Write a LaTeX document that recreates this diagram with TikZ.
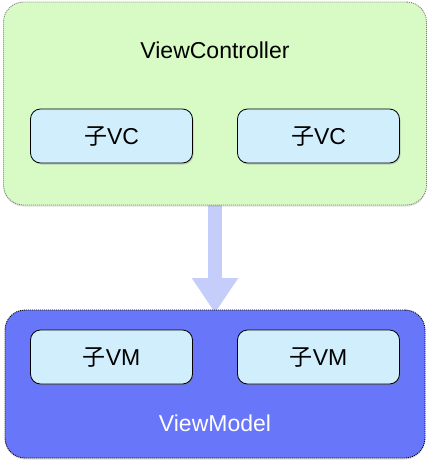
\documentclass[tikz,border=0pt]{standalone}
\usepackage{fontspec}
\setmainfont{Liberation Sans}
\newfontfamily\cjk{Noto Sans CJK SC}
\usepackage{tikz}
\usetikzlibrary{arrows.meta, shadows}

\definecolor{vcgreen}{HTML}{D8FAC4}
\definecolor{subblue}{HTML}{D0EEFC}
\definecolor{vmblue}{HTML}{6876FA}
\definecolor{arrowblue}{HTML}{C5CEFA}

\begin{document}
\begin{tikzpicture}[x=1pt, y=-1pt,
  every node/.style={font=\fontsize{23}{27}\selectfont},
  outerbox/.style={rounded corners=20pt, line width=0.9pt, dash pattern=on 1pt off 1pt, inner sep=0pt},
  subbox/.style={draw, fill=subblue, rounded corners=10pt, line width=0.8pt, minimum width=162pt, minimum height=54pt, inner sep=0pt,
    drop shadow={shadow xshift=1pt, shadow yshift=-1.5pt, opacity=0.35}}]
\useasboundingbox (0,0) rectangle (429,464);
% arrow between the two layers
\coordinate (top) at (215,205);
\coordinate (tip) at (215,313);
\draw[arrowblue, line width=14pt, -{Triangle[width=44pt, length=35pt]}] (top) -- (tip);
% view controller layer
\node[outerbox, draw=gray, fill=vcgreen, minimum width=423pt, minimum height=203pt,
  drop shadow={shadow xshift=0pt, shadow yshift=-1.5pt, opacity=0.25}] (vc) at (215,103.5) {};
\node (vclabel) at (215,50) {ViewController};
\node[subbox] (vc1) at (111.5,136) {{\cjk 子}VC};
\node[subbox] (vc2) at (318.5,136) {{\cjk 子}VC};
% view model layer
\node[outerbox, draw=black, fill=vmblue, minimum width=420pt, minimum height=148pt,
  drop shadow={shadow xshift=0pt, shadow yshift=-1.5pt, opacity=0.25}] (vm) at (215,384) {};
\node[subbox] (vm1) at (111.5,357) {{\cjk 子}VM};
\node[subbox] (vm2) at (318.5,357) {{\cjk 子}VM};
\node[white] (vmlabel) at (215,423) {ViewModel};
\end{tikzpicture}
\end{document}
